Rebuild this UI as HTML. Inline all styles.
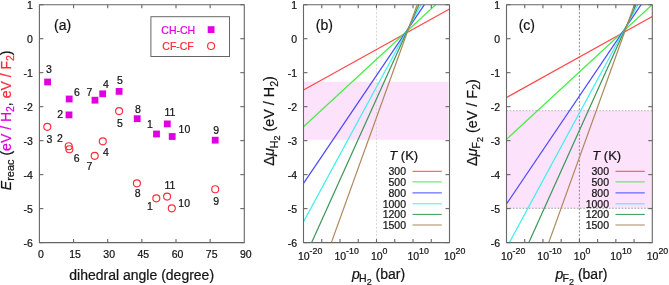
<!DOCTYPE html>
<html><head><meta charset="utf-8"><style>
html,body{margin:0;padding:0;background:#fff;}
svg{display:block;filter:blur(0.3px);}
text{font-family:"Liberation Sans",sans-serif;stroke:#141414;stroke-width:0.22px;}
</style></head><body>
<svg width="669" height="285" viewBox="0 0 669 285" fill="#141414">
<rect width="669" height="285" fill="#fff"/>
<rect x="303.50" y="81.68" width="144.80" height="58.12" fill="#fde2fb"/>
<rect x="506.50" y="110.74" width="144.60" height="97.54" fill="#fde2fb"/>
<line x1="506.5" y1="110.74" x2="652.3" y2="110.74" stroke="#c4aac2" stroke-width="1" stroke-dasharray="1.6,1.6"/>
<line x1="506.5" y1="208.27" x2="652.3" y2="208.27" stroke="#a0a0a0" stroke-width="1" stroke-dasharray="1.6,1.6"/>
<line x1="376.50" y1="4.7" x2="376.50" y2="242.6" stroke="#d8d8d8" stroke-width="1" stroke-dasharray="2,1.7"/>
<line x1="579.40" y1="4.7" x2="579.40" y2="242.6" stroke="#8a8a8a" stroke-width="1" stroke-dasharray="2,1.7"/>
<line x1="303.50" y1="89.97" x2="449.50" y2="9.05" stroke="#ff4848" stroke-width="1.2"/>
<line x1="303.50" y1="126.73" x2="435.60" y2="4.70" stroke="#44ee44" stroke-width="1.2"/>
<line x1="303.50" y1="183.38" x2="424.39" y2="4.70" stroke="#4848ff" stroke-width="1.2"/>
<line x1="303.50" y1="221.84" x2="421.03" y2="4.70" stroke="#44eeee" stroke-width="1.2"/>
<line x1="311.67" y1="242.60" x2="418.98" y2="4.70" stroke="#3a9655" stroke-width="1.2"/>
<line x1="331.33" y1="242.60" x2="417.17" y2="4.70" stroke="#ad875a" stroke-width="1.2"/>
<line x1="506.50" y1="97.47" x2="652.30" y2="16.55" stroke="#ff4848" stroke-width="1.2"/>
<line x1="506.50" y1="139.38" x2="652.09" y2="4.70" stroke="#44ee44" stroke-width="1.2"/>
<line x1="506.50" y1="203.96" x2="641.13" y2="4.70" stroke="#4848ff" stroke-width="1.2"/>
<line x1="509.34" y1="242.60" x2="637.93" y2="4.70" stroke="#44eeee" stroke-width="1.2"/>
<line x1="528.88" y1="242.60" x2="636.04" y2="4.70" stroke="#3a9655" stroke-width="1.2"/>
<line x1="548.71" y1="242.60" x2="634.44" y2="4.70" stroke="#ad875a" stroke-width="1.2"/>
<line x1="39.4" y1="242.60" x2="43.4" y2="242.60" stroke="#666666" stroke-width="1.1"/>
<line x1="244.3" y1="242.60" x2="240.3" y2="242.60" stroke="#666666" stroke-width="1.1"/>
<line x1="39.4" y1="208.61" x2="43.4" y2="208.61" stroke="#666666" stroke-width="1.1"/>
<line x1="244.3" y1="208.61" x2="240.3" y2="208.61" stroke="#666666" stroke-width="1.1"/>
<line x1="39.4" y1="174.63" x2="43.4" y2="174.63" stroke="#666666" stroke-width="1.1"/>
<line x1="244.3" y1="174.63" x2="240.3" y2="174.63" stroke="#666666" stroke-width="1.1"/>
<line x1="39.4" y1="140.64" x2="43.4" y2="140.64" stroke="#666666" stroke-width="1.1"/>
<line x1="244.3" y1="140.64" x2="240.3" y2="140.64" stroke="#666666" stroke-width="1.1"/>
<line x1="39.4" y1="106.66" x2="43.4" y2="106.66" stroke="#666666" stroke-width="1.1"/>
<line x1="244.3" y1="106.66" x2="240.3" y2="106.66" stroke="#666666" stroke-width="1.1"/>
<line x1="39.4" y1="72.67" x2="43.4" y2="72.67" stroke="#666666" stroke-width="1.1"/>
<line x1="244.3" y1="72.67" x2="240.3" y2="72.67" stroke="#666666" stroke-width="1.1"/>
<line x1="39.4" y1="38.69" x2="43.4" y2="38.69" stroke="#666666" stroke-width="1.1"/>
<line x1="244.3" y1="38.69" x2="240.3" y2="38.69" stroke="#666666" stroke-width="1.1"/>
<line x1="39.4" y1="4.70" x2="43.4" y2="4.70" stroke="#666666" stroke-width="1.1"/>
<line x1="244.3" y1="4.70" x2="240.3" y2="4.70" stroke="#666666" stroke-width="1.1"/>
<line x1="303.5" y1="242.60" x2="307.5" y2="242.60" stroke="#666666" stroke-width="1.1"/>
<line x1="449.5" y1="242.60" x2="445.5" y2="242.60" stroke="#666666" stroke-width="1.1"/>
<line x1="303.5" y1="208.61" x2="307.5" y2="208.61" stroke="#666666" stroke-width="1.1"/>
<line x1="449.5" y1="208.61" x2="445.5" y2="208.61" stroke="#666666" stroke-width="1.1"/>
<line x1="303.5" y1="174.63" x2="307.5" y2="174.63" stroke="#666666" stroke-width="1.1"/>
<line x1="449.5" y1="174.63" x2="445.5" y2="174.63" stroke="#666666" stroke-width="1.1"/>
<line x1="303.5" y1="140.64" x2="307.5" y2="140.64" stroke="#666666" stroke-width="1.1"/>
<line x1="449.5" y1="140.64" x2="445.5" y2="140.64" stroke="#666666" stroke-width="1.1"/>
<line x1="303.5" y1="106.66" x2="307.5" y2="106.66" stroke="#666666" stroke-width="1.1"/>
<line x1="449.5" y1="106.66" x2="445.5" y2="106.66" stroke="#666666" stroke-width="1.1"/>
<line x1="303.5" y1="72.67" x2="307.5" y2="72.67" stroke="#666666" stroke-width="1.1"/>
<line x1="449.5" y1="72.67" x2="445.5" y2="72.67" stroke="#666666" stroke-width="1.1"/>
<line x1="303.5" y1="38.69" x2="307.5" y2="38.69" stroke="#666666" stroke-width="1.1"/>
<line x1="449.5" y1="38.69" x2="445.5" y2="38.69" stroke="#666666" stroke-width="1.1"/>
<line x1="303.5" y1="4.70" x2="307.5" y2="4.70" stroke="#666666" stroke-width="1.1"/>
<line x1="449.5" y1="4.70" x2="445.5" y2="4.70" stroke="#666666" stroke-width="1.1"/>
<line x1="506.5" y1="242.60" x2="510.5" y2="242.60" stroke="#666666" stroke-width="1.1"/>
<line x1="652.3" y1="242.60" x2="648.3" y2="242.60" stroke="#666666" stroke-width="1.1"/>
<line x1="506.5" y1="208.61" x2="510.5" y2="208.61" stroke="#666666" stroke-width="1.1"/>
<line x1="652.3" y1="208.61" x2="648.3" y2="208.61" stroke="#666666" stroke-width="1.1"/>
<line x1="506.5" y1="174.63" x2="510.5" y2="174.63" stroke="#666666" stroke-width="1.1"/>
<line x1="652.3" y1="174.63" x2="648.3" y2="174.63" stroke="#666666" stroke-width="1.1"/>
<line x1="506.5" y1="140.64" x2="510.5" y2="140.64" stroke="#666666" stroke-width="1.1"/>
<line x1="652.3" y1="140.64" x2="648.3" y2="140.64" stroke="#666666" stroke-width="1.1"/>
<line x1="506.5" y1="106.66" x2="510.5" y2="106.66" stroke="#666666" stroke-width="1.1"/>
<line x1="652.3" y1="106.66" x2="648.3" y2="106.66" stroke="#666666" stroke-width="1.1"/>
<line x1="506.5" y1="72.67" x2="510.5" y2="72.67" stroke="#666666" stroke-width="1.1"/>
<line x1="652.3" y1="72.67" x2="648.3" y2="72.67" stroke="#666666" stroke-width="1.1"/>
<line x1="506.5" y1="38.69" x2="510.5" y2="38.69" stroke="#666666" stroke-width="1.1"/>
<line x1="652.3" y1="38.69" x2="648.3" y2="38.69" stroke="#666666" stroke-width="1.1"/>
<line x1="506.5" y1="4.70" x2="510.5" y2="4.70" stroke="#666666" stroke-width="1.1"/>
<line x1="652.3" y1="4.70" x2="648.3" y2="4.70" stroke="#666666" stroke-width="1.1"/>
<line x1="73.55" y1="242.6" x2="73.55" y2="239.1" stroke="#666666" stroke-width="1.1"/>
<line x1="73.55" y1="4.7" x2="73.55" y2="8.2" stroke="#666666" stroke-width="1.1"/>
<line x1="107.70" y1="242.6" x2="107.70" y2="239.1" stroke="#666666" stroke-width="1.1"/>
<line x1="107.70" y1="4.7" x2="107.70" y2="8.2" stroke="#666666" stroke-width="1.1"/>
<line x1="141.85" y1="242.6" x2="141.85" y2="239.1" stroke="#666666" stroke-width="1.1"/>
<line x1="141.85" y1="4.7" x2="141.85" y2="8.2" stroke="#666666" stroke-width="1.1"/>
<line x1="176.00" y1="242.6" x2="176.00" y2="239.1" stroke="#666666" stroke-width="1.1"/>
<line x1="176.00" y1="4.7" x2="176.00" y2="8.2" stroke="#666666" stroke-width="1.1"/>
<line x1="210.15" y1="242.6" x2="210.15" y2="239.1" stroke="#666666" stroke-width="1.1"/>
<line x1="210.15" y1="4.7" x2="210.15" y2="8.2" stroke="#666666" stroke-width="1.1"/>
<line x1="321.75" y1="242.6" x2="321.75" y2="239.1" stroke="#666666" stroke-width="1.1"/>
<line x1="321.75" y1="4.7" x2="321.75" y2="8.2" stroke="#666666" stroke-width="1.1"/>
<line x1="340.00" y1="242.6" x2="340.00" y2="239.1" stroke="#666666" stroke-width="1.1"/>
<line x1="340.00" y1="4.7" x2="340.00" y2="8.2" stroke="#666666" stroke-width="1.1"/>
<line x1="358.25" y1="242.6" x2="358.25" y2="239.1" stroke="#666666" stroke-width="1.1"/>
<line x1="358.25" y1="4.7" x2="358.25" y2="8.2" stroke="#666666" stroke-width="1.1"/>
<line x1="376.50" y1="242.6" x2="376.50" y2="239.1" stroke="#666666" stroke-width="1.1"/>
<line x1="376.50" y1="4.7" x2="376.50" y2="8.2" stroke="#666666" stroke-width="1.1"/>
<line x1="394.75" y1="242.6" x2="394.75" y2="239.1" stroke="#666666" stroke-width="1.1"/>
<line x1="394.75" y1="4.7" x2="394.75" y2="8.2" stroke="#666666" stroke-width="1.1"/>
<line x1="413.00" y1="242.6" x2="413.00" y2="239.1" stroke="#666666" stroke-width="1.1"/>
<line x1="413.00" y1="4.7" x2="413.00" y2="8.2" stroke="#666666" stroke-width="1.1"/>
<line x1="431.25" y1="242.6" x2="431.25" y2="239.1" stroke="#666666" stroke-width="1.1"/>
<line x1="431.25" y1="4.7" x2="431.25" y2="8.2" stroke="#666666" stroke-width="1.1"/>
<line x1="524.73" y1="242.6" x2="524.73" y2="239.1" stroke="#666666" stroke-width="1.1"/>
<line x1="524.73" y1="4.7" x2="524.73" y2="8.2" stroke="#666666" stroke-width="1.1"/>
<line x1="542.95" y1="242.6" x2="542.95" y2="239.1" stroke="#666666" stroke-width="1.1"/>
<line x1="542.95" y1="4.7" x2="542.95" y2="8.2" stroke="#666666" stroke-width="1.1"/>
<line x1="561.17" y1="242.6" x2="561.17" y2="239.1" stroke="#666666" stroke-width="1.1"/>
<line x1="561.17" y1="4.7" x2="561.17" y2="8.2" stroke="#666666" stroke-width="1.1"/>
<line x1="579.40" y1="242.6" x2="579.40" y2="239.1" stroke="#666666" stroke-width="1.1"/>
<line x1="579.40" y1="4.7" x2="579.40" y2="8.2" stroke="#666666" stroke-width="1.1"/>
<line x1="597.62" y1="242.6" x2="597.62" y2="239.1" stroke="#666666" stroke-width="1.1"/>
<line x1="597.62" y1="4.7" x2="597.62" y2="8.2" stroke="#666666" stroke-width="1.1"/>
<line x1="615.85" y1="242.6" x2="615.85" y2="239.1" stroke="#666666" stroke-width="1.1"/>
<line x1="615.85" y1="4.7" x2="615.85" y2="8.2" stroke="#666666" stroke-width="1.1"/>
<line x1="634.07" y1="242.6" x2="634.07" y2="239.1" stroke="#666666" stroke-width="1.1"/>
<line x1="634.07" y1="4.7" x2="634.07" y2="8.2" stroke="#666666" stroke-width="1.1"/>
<rect x="39.4" y="4.7" width="204.90" height="237.90" fill="none" stroke="#666666" stroke-width="1.1" stroke-linejoin="round"/>
<rect x="303.5" y="4.7" width="146.00" height="237.90" fill="none" stroke="#666666" stroke-width="1.1" stroke-linejoin="round"/>
<rect x="506.5" y="4.7" width="145.80" height="237.90" fill="none" stroke="#666666" stroke-width="1.1" stroke-linejoin="round"/>
<text x="32.90" y="247.10" text-anchor="end" font-size="10.5">-6</text>
<text x="32.90" y="213.11" text-anchor="end" font-size="10.5">-5</text>
<text x="32.90" y="179.13" text-anchor="end" font-size="10.5">-4</text>
<text x="32.90" y="145.14" text-anchor="end" font-size="10.5">-3</text>
<text x="32.90" y="111.16" text-anchor="end" font-size="10.5">-2</text>
<text x="32.90" y="77.17" text-anchor="end" font-size="10.5">-1</text>
<text x="32.90" y="43.19" text-anchor="end" font-size="10.5">0</text>
<text x="32.90" y="9.20" text-anchor="end" font-size="10.5">1</text>
<text x="297.00" y="247.10" text-anchor="end" font-size="10.5">-6</text>
<text x="297.00" y="213.11" text-anchor="end" font-size="10.5">-5</text>
<text x="297.00" y="179.13" text-anchor="end" font-size="10.5">-4</text>
<text x="297.00" y="145.14" text-anchor="end" font-size="10.5">-3</text>
<text x="297.00" y="111.16" text-anchor="end" font-size="10.5">-2</text>
<text x="297.00" y="77.17" text-anchor="end" font-size="10.5">-1</text>
<text x="297.00" y="43.19" text-anchor="end" font-size="10.5">0</text>
<text x="297.00" y="9.20" text-anchor="end" font-size="10.5">1</text>
<text x="500.00" y="247.10" text-anchor="end" font-size="10.5">-6</text>
<text x="500.00" y="213.11" text-anchor="end" font-size="10.5">-5</text>
<text x="500.00" y="179.13" text-anchor="end" font-size="10.5">-4</text>
<text x="500.00" y="145.14" text-anchor="end" font-size="10.5">-3</text>
<text x="500.00" y="111.16" text-anchor="end" font-size="10.5">-2</text>
<text x="500.00" y="77.17" text-anchor="end" font-size="10.5">-1</text>
<text x="500.00" y="43.19" text-anchor="end" font-size="10.5">0</text>
<text x="500.00" y="9.20" text-anchor="end" font-size="10.5">1</text>
<text x="40.90" y="257.90" text-anchor="middle" font-size="10.5">0</text>
<text x="75.05" y="257.90" text-anchor="middle" font-size="10.5">15</text>
<text x="109.20" y="257.90" text-anchor="middle" font-size="10.5">30</text>
<text x="143.35" y="257.90" text-anchor="middle" font-size="10.5">45</text>
<text x="177.50" y="257.90" text-anchor="middle" font-size="10.5">60</text>
<text x="211.65" y="257.90" text-anchor="middle" font-size="10.5">75</text>
<text x="245.80" y="257.90" text-anchor="middle" font-size="10.5">90</text>
<text x="297.90" y="259.70" font-size="10.5">10<tspan dy="-5.3" font-size="8.8">-20</tspan></text>
<text x="334.40" y="259.70" font-size="10.5">10<tspan dy="-5.3" font-size="8.8">-10</tspan></text>
<text x="370.90" y="259.70" font-size="10.5">10<tspan dy="-5.3" font-size="8.8">0</tspan></text>
<text x="407.40" y="259.70" font-size="10.5">10<tspan dy="-5.3" font-size="8.8">10</tspan></text>
<text x="443.90" y="259.70" font-size="10.5">10<tspan dy="-5.3" font-size="8.8">20</tspan></text>
<text x="500.90" y="259.70" font-size="10.5">10<tspan dy="-5.3" font-size="8.8">-20</tspan></text>
<text x="537.35" y="259.70" font-size="10.5">10<tspan dy="-5.3" font-size="8.8">-10</tspan></text>
<text x="573.80" y="259.70" font-size="10.5">10<tspan dy="-5.3" font-size="8.8">0</tspan></text>
<text x="610.25" y="259.70" font-size="10.5">10<tspan dy="-5.3" font-size="8.8">10</tspan></text>
<text x="646.70" y="259.70" font-size="10.5">10<tspan dy="-5.3" font-size="8.8">20</tspan></text>
<text x="54" y="29.8" font-size="14">(a)</text>
<text x="315.8" y="29.8" font-size="14">(b)</text>
<text x="518.7" y="29.8" font-size="14">(c)</text>
<text x="69.3" y="279.6" font-size="14">dihedral angle (degree)</text>
<text x="351.3" y="279" font-size="14"><tspan font-style="italic" dx="0.8">p</tspan><tspan font-size="10.5" dx="-0.8" dy="3.2">H</tspan><tspan font-size="9" dy="2.5">2</tspan><tspan dy="-5.7"> (bar)</tspan></text>
<text x="554.8" y="279" font-size="14"><tspan font-style="italic" dx="0.8">p</tspan><tspan font-size="10.5" dx="-0.8" dy="3.2">F</tspan><tspan font-size="9" dy="2.5">2</tspan><tspan dy="-5.7"> (bar)</tspan></text>
<text transform="translate(274.4,120.9) rotate(-90)" font-size="14.4" text-anchor="middle"><tspan>Δ</tspan><tspan font-style="italic">μ</tspan><tspan font-size="10.5" dy="3.2">H</tspan><tspan font-size="9" dy="2.5">2</tspan><tspan dy="-5.7"> (eV / H</tspan><tspan font-size="10.5" dy="3.2">2</tspan><tspan dy="-3.2">)</tspan></text>
<text transform="translate(477.2,122.6) rotate(-90)" font-size="14.4" text-anchor="middle"><tspan>Δ</tspan><tspan font-style="italic">μ</tspan><tspan font-size="10.5" dy="3.2">F</tspan><tspan font-size="9" dy="2.5">2</tspan><tspan dy="-5.7"> (eV / F</tspan><tspan font-size="10.5" dy="3.2">2</tspan><tspan dy="-3.2">)</tspan></text>
<text transform="translate(10.9,190.2) rotate(-90)" font-size="14"><tspan font-style="italic">E</tspan><tspan font-size="11" dy="3.4">reac</tspan><tspan dy="-3.4"> (</tspan><tspan fill="#e000e0" stroke="#e000e0">eV / H</tspan><tspan fill="#e000e0" stroke="#e000e0" font-size="10.5" dy="3.2">2</tspan><tspan dy="-3.2">,</tspan><tspan fill="#ff2a3a" stroke="#ff2a3a"> eV / F</tspan><tspan fill="#ff2a3a" stroke="#ff2a3a" font-size="10.5" dy="3.2">2</tspan><tspan dy="-3.2">)</tspan></text>
<text x="389.30" y="159.7" font-size="13"><tspan font-style="italic">T</tspan> (K)</text>
<text x="406.00" y="175.05" text-anchor="end" font-size="10.5">300</text>
<line x1="412.50" y1="171.30" x2="441.80" y2="171.30" stroke="#ff4848" stroke-width="1"/>
<text x="406.00" y="185.65" text-anchor="end" font-size="10.5">500</text>
<line x1="412.50" y1="181.90" x2="441.80" y2="181.90" stroke="#44ee44" stroke-width="1"/>
<text x="406.00" y="196.65" text-anchor="end" font-size="10.5">800</text>
<line x1="412.50" y1="192.90" x2="441.80" y2="192.90" stroke="#4848ff" stroke-width="1"/>
<text x="406.00" y="207.55" text-anchor="end" font-size="10.5">1000</text>
<line x1="412.50" y1="203.80" x2="441.80" y2="203.80" stroke="#44eeee" stroke-width="1"/>
<text x="406.00" y="218.15" text-anchor="end" font-size="10.5">1200</text>
<line x1="412.50" y1="214.40" x2="441.80" y2="214.40" stroke="#3a9655" stroke-width="1"/>
<text x="406.00" y="228.75" text-anchor="end" font-size="10.5">1500</text>
<line x1="412.50" y1="225.00" x2="441.80" y2="225.00" stroke="#ad875a" stroke-width="1"/>
<text x="592.30" y="159.7" font-size="13"><tspan font-style="italic">T</tspan> (K)</text>
<text x="609.00" y="175.05" text-anchor="end" font-size="10.5">300</text>
<line x1="615.50" y1="171.30" x2="644.80" y2="171.30" stroke="#ff4848" stroke-width="1"/>
<text x="609.00" y="185.65" text-anchor="end" font-size="10.5">500</text>
<line x1="615.50" y1="181.90" x2="644.80" y2="181.90" stroke="#44ee44" stroke-width="1"/>
<text x="609.00" y="196.65" text-anchor="end" font-size="10.5">800</text>
<line x1="615.50" y1="192.90" x2="644.80" y2="192.90" stroke="#4848ff" stroke-width="1"/>
<text x="609.00" y="207.55" text-anchor="end" font-size="10.5">1000</text>
<line x1="615.50" y1="203.80" x2="644.80" y2="203.80" stroke="#44eeee" stroke-width="1"/>
<text x="609.00" y="218.15" text-anchor="end" font-size="10.5">1200</text>
<line x1="615.50" y1="214.40" x2="644.80" y2="214.40" stroke="#3a9655" stroke-width="1"/>
<text x="609.00" y="228.75" text-anchor="end" font-size="10.5">1500</text>
<line x1="615.50" y1="225.00" x2="644.80" y2="225.00" stroke="#ad875a" stroke-width="1"/>
<rect x="150.9" y="16.7" width="78.6" height="39.8" fill="#fff" stroke="#666666" stroke-width="1"/>
<text x="195.2" y="33.7" text-anchor="end" font-size="10.5" style="fill:#e000e0;stroke:#e000e0">CH-CH</text>
<text x="193.8" y="49.7" text-anchor="end" font-size="10.5" style="fill:#ff2a3a;stroke:#ff2a3a">CF-CF</text>
<rect x="207.70" y="26.20" width="6.8" height="6.8" fill="#e000e0"/>
<circle cx="211.1" cy="46" r="3.5" fill="none" stroke="#ff2a3a" stroke-width="1.15"/>
<rect x="44.20" y="78.60" width="6.8" height="6.8" fill="#e000e0"/>
<rect x="65.80" y="95.60" width="6.8" height="6.8" fill="#e000e0"/>
<rect x="65.60" y="111.50" width="6.8" height="6.8" fill="#e000e0"/>
<rect x="91.60" y="96.80" width="6.8" height="6.8" fill="#e000e0"/>
<rect x="99.30" y="90.40" width="6.8" height="6.8" fill="#e000e0"/>
<rect x="115.70" y="88.00" width="6.8" height="6.8" fill="#e000e0"/>
<rect x="133.80" y="115.30" width="6.8" height="6.8" fill="#e000e0"/>
<rect x="153.10" y="130.60" width="6.8" height="6.8" fill="#e000e0"/>
<rect x="163.90" y="120.50" width="6.8" height="6.8" fill="#e000e0"/>
<rect x="168.80" y="133.10" width="6.8" height="6.8" fill="#e000e0"/>
<rect x="211.80" y="136.80" width="6.8" height="6.8" fill="#e000e0"/>
<circle cx="47.30" cy="126.80" r="3.5" fill="none" stroke="#ff2a3a" stroke-width="1.15"/>
<circle cx="68.70" cy="146.20" r="3.5" fill="none" stroke="#ff2a3a" stroke-width="1.15"/>
<circle cx="69.40" cy="149.20" r="3.5" fill="none" stroke="#ff2a3a" stroke-width="1.15"/>
<circle cx="102.80" cy="141.30" r="3.5" fill="none" stroke="#ff2a3a" stroke-width="1.15"/>
<circle cx="94.70" cy="155.80" r="3.5" fill="none" stroke="#ff2a3a" stroke-width="1.15"/>
<circle cx="119.10" cy="111.10" r="3.5" fill="none" stroke="#ff2a3a" stroke-width="1.15"/>
<circle cx="136.90" cy="183.30" r="3.5" fill="none" stroke="#ff2a3a" stroke-width="1.15"/>
<circle cx="156.30" cy="198.30" r="3.5" fill="none" stroke="#ff2a3a" stroke-width="1.15"/>
<circle cx="167.10" cy="196.60" r="3.5" fill="none" stroke="#ff2a3a" stroke-width="1.15"/>
<circle cx="171.80" cy="208.30" r="3.5" fill="none" stroke="#ff2a3a" stroke-width="1.15"/>
<circle cx="215.20" cy="189.20" r="3.5" fill="none" stroke="#ff2a3a" stroke-width="1.15"/>
<text x="49.00" y="73.25" text-anchor="middle" font-size="10.5">3</text>
<text x="76.80" y="96.15" text-anchor="middle" font-size="10.5">6</text>
<text x="60.10" y="117.75" text-anchor="middle" font-size="10.5">2</text>
<text x="89.50" y="96.15" text-anchor="middle" font-size="10.5">7</text>
<text x="105.80" y="87.95" text-anchor="middle" font-size="10.5">4</text>
<text x="119.80" y="84.25" text-anchor="middle" font-size="10.5">5</text>
<text x="120.00" y="127.15" text-anchor="middle" font-size="10.5">5</text>
<text x="137.80" y="113.35" text-anchor="middle" font-size="10.5">8</text>
<text x="150.00" y="128.25" text-anchor="middle" font-size="10.5">1</text>
<text x="169.90" y="116.05" text-anchor="middle" font-size="10.5">11</text>
<text x="184.40" y="133.45" text-anchor="middle" font-size="10.5">10</text>
<text x="216.10" y="133.65" text-anchor="middle" font-size="10.5">9</text>
<text x="49.40" y="143.25" text-anchor="middle" font-size="10.5">3</text>
<text x="60.00" y="142.25" text-anchor="middle" font-size="10.5">2</text>
<text x="76.70" y="162.35" text-anchor="middle" font-size="10.5">6</text>
<text x="105.90" y="155.55" text-anchor="middle" font-size="10.5">4</text>
<text x="89.50" y="170.05" text-anchor="middle" font-size="10.5">7</text>
<text x="137.60" y="197.05" text-anchor="middle" font-size="10.5">8</text>
<text x="170.00" y="189.45" text-anchor="middle" font-size="10.5">11</text>
<text x="149.80" y="210.05" text-anchor="middle" font-size="10.5">1</text>
<text x="184.20" y="207.35" text-anchor="middle" font-size="10.5">10</text>
<text x="216.10" y="204.85" text-anchor="middle" font-size="10.5">9</text>
</svg></body></html>
